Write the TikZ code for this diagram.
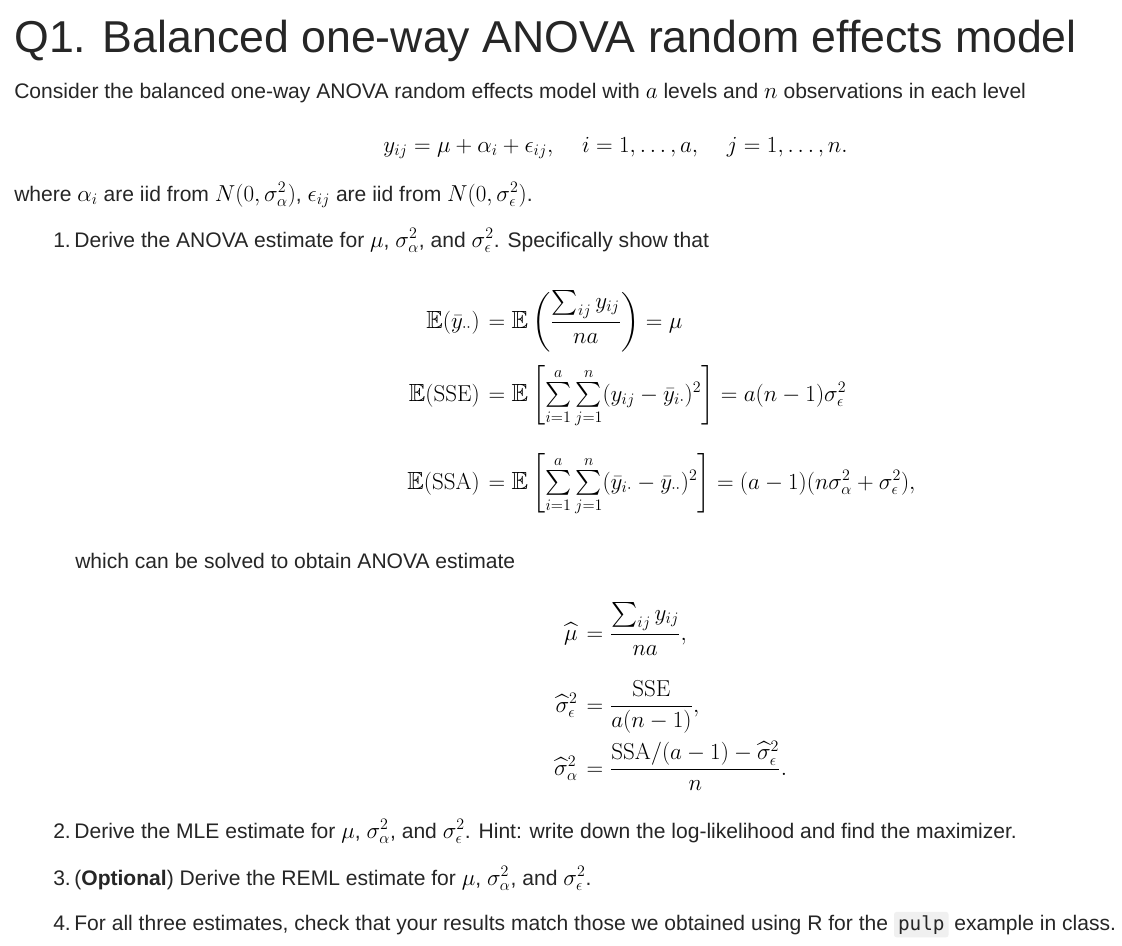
\documentclass[tikz,border=0pt]{standalone}
\usepackage{amsmath,amssymb}
\usepackage[no-math]{fontspec}
\setmainfont{Liberation Sans}
\setmonofont{DejaVu Sans Mono}
\tikzset{
  txt/.style={anchor=base west, inner sep=0pt, text=black!85, font=\fontsize{15.8}{18}\selectfont},
  ttl/.style={anchor=base west, inner sep=0pt, text=black!85, font=\fontsize{33.5}{38}\selectfont},
  mth/.style={inner sep=0pt, text=black, font=\fontsize{18.6}{22}\selectfont},
  lhs/.style={mth, anchor=base east},
  rhs/.style={mth, anchor=base west}
}
\newcommand{\im}[1]{{\fontsize{18.6}{21}\selectfont\color{black}$#1$}}
\newcommand{\codebox}[1]{\tikz[baseline=(c.base)]\node[fill=black!6, rounded corners=2pt, inner xsep=3pt, inner ysep=2.5pt] (c) {\ttfamily\fontsize{14.5}{16}\selectfont #1};}
\begin{document}
\begin{tikzpicture}[x=0.75pt, y=-0.75pt]
    \useasboundingbox[fill=white] (0,0) rectangle (1122,946);
    % title and intro
    \node[ttl] (title) at (14,52) {Q1. Balanced one-way ANOVA random effects model};
    \node[txt] (intro) at (14,98) {Consider the balanced one-way ANOVA random effects model with \im{a} levels and \im{n} observations in each level};
    \node[rhs] (model) at (383,152) {$y_{ij}=\mu+\alpha_i+\epsilon_{ij},\quad i=1,\dots,a,\quad j=1,\dots,n.$};
    \node[txt] (where) at (14,201) {where \im{\alpha_i} are iid from \im{N(0,\sigma_\alpha^2)}, \im{\epsilon_{ij}} are iid from \im{N(0,\sigma_\epsilon^2)}.};
    % item 1
    \node[txt] (item1) at (53,247) {1.\,Derive the ANOVA estimate for \im{\mu}, \im{\sigma_\alpha^2}, and \im{\sigma_\epsilon^2}. Specifically show that};
    \node[lhs] (ey) at (480,328) {$\mathbb{E}(\bar y_{\cdot\cdot})$};
    \node[rhs] (eyr) at (482,328) {${}=\mathbb{E}\left(\dfrac{\sum_{ij}y_{ij}}{na}\right)=\mu$};
    \node[lhs] (esse) at (480,401) {$\mathbb{E}(\mathrm{SSE})$};
    \node[rhs] (esser) at (482,401) {${}=\mathbb{E}\left[\sum\limits_{i=1}^a\sum\limits_{j=1}^n(y_{ij}-\bar y_{i\cdot})^2\right]=a(n-1)\sigma_\epsilon^2$};
    \node[lhs] (essa) at (480,489) {$\mathbb{E}(\mathrm{SSA})$};
    \node[rhs] (essar) at (482,489) {${}=\mathbb{E}\left[\sum\limits_{i=1}^a\sum\limits_{j=1}^n(\bar y_{i\cdot}-\bar y_{\cdot\cdot})^2\right]=(a-1)(n\sigma_\alpha^2+\sigma_\epsilon^2),$};
    \node[txt] (which) at (75,568) {which can be solved to obtain ANOVA estimate};
    % estimates
    \node[lhs] (muh) at (578,640) {$\widehat\mu$};
    \node[rhs] (muhr) at (580,640) {${}=\dfrac{\sum_{ij}y_{ij}}{na},$};
    \node[lhs] (seh) at (578,712) {$\widehat\sigma_\epsilon^2$};
    \node[rhs] (sehr) at (580,712) {${}=\dfrac{\mathrm{SSE}}{a(n-1)},$};
    \node[lhs] (sah) at (578,775) {$\widehat\sigma_\alpha^2$};
    \node[rhs] (sahr) at (580,775) {${}=\dfrac{\mathrm{SSA}/(a-1)-\widehat\sigma_\epsilon^2}{n}.$};
    % items 2-4
    \node[txt] (item2) at (53,838) {2.\,Derive the MLE estimate for \im{\mu}, \im{\sigma_\alpha^2}, and \im{\sigma_\epsilon^2}. Hint: write down the log-likelihood and find the maximizer.};
    \node[txt] (item3) at (53,885) {3.\,(\textbf{Optional}) Derive the REML estimate for \im{\mu}, \im{\sigma_\alpha^2}, and \im{\sigma_\epsilon^2}.};
    \node[txt] (item4) at (53,930) {4.\,For all three estimates, check that your results match those we obtained using R for the \codebox{pulp} example in class.};
\end{tikzpicture}
\end{document}
